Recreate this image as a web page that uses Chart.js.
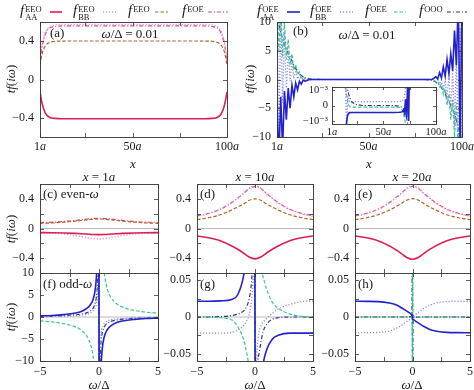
<!DOCTYPE html>
<html><head><meta charset="utf-8">
<script src="https://cdn.jsdelivr.net/npm/chart.js@4.4.1/dist/chart.umd.min.js"></script>
<style>
html,body{margin:0;padding:0;background:#fff}
#wrap{position:relative;width:474px;height:390px;overflow:hidden;font-family:"Liberation Serif","DejaVu Serif",serif;color:#1a1a1a}
#wrap canvas{position:absolute}
.t{position:absolute;white-space:nowrap;font-size:13px;line-height:13px}
.c{transform:translate(-50%,-50%)}
.rot{transform:translate(-50%,-50%) rotate(-90deg)}
.lg{position:absolute;white-space:nowrap;font-size:15px;line-height:15px}
.ss{display:inline-block;vertical-align:-5px;font-size:8.5px;line-height:8.5px;margin-left:1px;font-style:normal}
.ss b{display:block;font-weight:normal}
#wrap svg{position:absolute}
</style></head><body><div id="wrap"></div>
<script>
// ---------------- DATA ----------------
const colAA_EEO = '#dc1f52', colBB_EEO = '#f08cc8', colEEO = '#b4601e', colEOE = '#e0458c';
const colAA_OEE = '#2222cc', colBB_OEE = '#8c8ce8', colOEE = '#3cc88c', colOOO = '#303088';

// panel (a): x in units of a, omega/Delta = 0.01
const xA = [1,2,3,4,5,6,7,9,11,13,16,20,30,40,50,60,70,80,85,88,90,92,94,95,96,97,98,99,100];
const aAA_EEO = [-0.13,-0.24,-0.31,-0.355,-0.38,-0.394,-0.401,-0.406,-0.408,-0.409,-0.41,-0.41,-0.41,-0.41,-0.41,-0.41,-0.41,-0.41,-0.41,-0.409,-0.408,-0.406,-0.401,-0.394,-0.38,-0.355,-0.31,-0.24,-0.13];
const aBB_EEO = [0.2,0.35,0.44,0.5,0.53,0.55,0.56,0.57,0.573,0.575,0.576,0.576,0.576,0.576,0.576,0.576,0.576,0.576,0.576,0.575,0.573,0.57,0.56,0.55,0.53,0.5,0.44,0.35,0.2];
const aEEO = [0.15,0.26,0.32,0.355,0.375,0.386,0.393,0.398,0.4,0.401,0.402,0.402,0.402,0.402,0.402,0.402,0.402,0.402,0.402,0.401,0.4,0.398,0.393,0.386,0.375,0.355,0.32,0.26,0.15];
const aEOE = [0.18,0.33,0.42,0.48,0.515,0.535,0.545,0.553,0.557,0.559,0.56,0.56,0.56,0.56,0.56,0.56,0.56,0.56,0.56,0.559,0.557,0.553,0.545,0.535,0.515,0.48,0.42,0.33,0.18];

// panel (b)
const xB = [1,2,3,4,5,6,7,8,9,10,11,12,13,14,15,16,18,20,25,30,40,50,60,70,75,80,82,84,85,86,87,88,89,90,91,92,93,94,95,96,97,98,99,100];
const bAA_OEE = [-4,-14,-3,-12,-2,-7,-1.5,-5,-1,-3,-0.6,-1.8,-0.3,-0.8,-0.1,-0.3,-0.05,0,0,0,0,0,0,0,0,0,0,0.05,0.2,0.5,0.1,1.2,0.3,2.2,0.6,3.5,1.0,4.5,1.5,8.5,2.5,14,-12,14];
const bBB_OEE = [12,-9,11,-4,8,-1.5,5,-0.3,3,0.2,1.6,0.1,0.8,0.05,0.35,0.05,0.02,0,0,0,0,0,0,0,0,0,0,-0.02,-0.05,-0.35,-0.05,-0.8,-0.1,-1.6,-0.2,-3,0.3,-5,1.5,-8,4,-11,9,-12];
const bOEE = [14,5,13,4,10,3.5,7,2.5,4.5,1.6,2.6,0.8,1.3,0.3,0.5,0.1,0.05,0,0,0,0,0,0,0,0,0,0,-0.05,-0.1,-0.5,-0.3,-1.3,-0.8,-2.6,-1.6,-4.5,-2.5,-7,-3.5,-10,-4,-13,-5,-14];
const bOOO = [11,9.5,8.2,7,6,5.2,4.5,3.9,3.2,2.5,1.9,1.4,1.0,0.7,0.45,0.3,0.15,0.05,0,0,0,0,0,0,0,0,-0.05,-0.15,-0.3,-0.45,-0.7,-1.0,-1.4,-1.9,-2.5,-3.2,-3.9,-4.5,-5.2,-6,-7,-8.2,-9.5,-11];

// inset of (b)
const xI = [1,5,10,12,13,14,15,16,17,18,20,25,30,40,50,60,65,67,68,69,70,71,72,73,74,75,80,90,100];
const iAA_OEE = [-0.02,-0.01,-0.006,-0.004,-0.003,-0.0018,-0.001,-0.0006,-0.0005,-0.00046,-0.00045,-0.00045,-0.00045,-0.00045,-0.00045,-0.00045,-0.00044,-0.00042,-0.0004,-0.0003,-0.0005,0.0004,-0.0008,0.0015,-0.001,0.004,0.01,0.02,0.02];
const iBB_OEE = [0.02,0.01,0.005,0.003,0.0018,0.0008,-0.0015,0.0006,0.0003,0.00027,0.00025,0.00025,0.00025,0.00025,0.00025,0.00025,0.00026,0.00028,0.0003,0.0004,0.0006,0.0012,0.002,0.003,0.004,0.006,0.01,0.02,0.02];
const iOEE = [0.03,0.01,0.005,0.003,0.002,0.0012,0.0006,0.0002,0,-0.00008,-0.0001,-0.0001,-0.0001,-0.0001,-0.0001,-0.0001,-0.00012,-0.0002,-0.0003,-0.0005,-0.0008,-0.0012,-0.002,-0.003,-0.004,-0.005,-0.01,-0.02,-0.03];
const iOOO = [0.03,0.012,0.006,0.004,0.003,0.002,0.0014,0.001,0.0007,0.0005,0.0002,0.00005,0,0,0,0,-0.00005,-0.0001,-0.00015,-0.0002,-0.0003,-0.0005,-0.0008,-0.0012,-0.0016,-0.002,-0.006,-0.015,-0.03];

// even-omega panels (c) x=1a, (d) x=10a, (e) x=20a
const wE = [-5,-4,-3,-2,-1.5,-1,-0.5,0,0.5,1,1.5,2,3,4,5];
const cAA_EEO = [-0.055,-0.057,-0.06,-0.066,-0.07,-0.075,-0.08,-0.082,-0.08,-0.075,-0.07,-0.066,-0.06,-0.057,-0.055];
const cBB_EEO = [-0.06,-0.065,-0.075,-0.095,-0.108,-0.122,-0.135,-0.14,-0.135,-0.122,-0.108,-0.095,-0.075,-0.065,-0.06];
const cEEO = [0.07,0.075,0.085,0.1,0.108,0.117,0.125,0.128,0.125,0.117,0.108,0.1,0.085,0.075,0.07];
const cEOE = [0.08,0.085,0.095,0.11,0.118,0.127,0.135,0.138,0.135,0.127,0.118,0.11,0.095,0.085,0.08];
const dAA_EEO = [-0.1,-0.125,-0.165,-0.235,-0.28,-0.33,-0.385,-0.41,-0.385,-0.33,-0.28,-0.235,-0.165,-0.125,-0.1];
const dBB_EEO = [0.165,0.2,0.255,0.345,0.405,0.47,0.545,0.575,0.545,0.47,0.405,0.345,0.255,0.2,0.165];
const dEEO = [0.12,0.145,0.185,0.25,0.29,0.33,0.38,0.4,0.38,0.33,0.29,0.25,0.185,0.145,0.12];
const dEOE = [0.17,0.205,0.26,0.35,0.41,0.47,0.54,0.565,0.54,0.47,0.41,0.35,0.26,0.205,0.17];
const eAA_EEO = [-0.1,-0.125,-0.165,-0.235,-0.282,-0.335,-0.39,-0.415,-0.39,-0.335,-0.282,-0.235,-0.165,-0.125,-0.1];
const eBB_EEO = [0.165,0.2,0.255,0.345,0.405,0.47,0.545,0.576,0.545,0.47,0.405,0.345,0.255,0.2,0.165];
const eEEO = [0.12,0.145,0.185,0.25,0.29,0.335,0.382,0.402,0.382,0.335,0.29,0.25,0.185,0.145,0.12];
const eEOE = [0.17,0.205,0.26,0.35,0.41,0.47,0.54,0.566,0.54,0.47,0.41,0.35,0.26,0.205,0.17];

// odd-omega panel (f) x=1a
const wF = [-5,-4,-3,-2,-1.5,-1,-0.7,-0.5,-0.35,-0.25,-0.18,-0.12,-0.08,-0.04,0.04,0.08,0.12,0.18,0.25,0.35,0.5,0.7,1,1.5,2,3,4,5];
const fAA_OEE = [0.25,0.35,0.55,0.9,1.25,2.0,2.9,4.0,5.7,8,11,16,24,40,-40,-24,-16,-11,-8,-5.7,-4.0,-2.9,-2.0,-1.25,-0.9,-0.55,-0.35,-0.25];
const fBB_OEE = [0.1,0.13,0.2,0.32,0.43,0.65,0.93,1.3,1.85,2.6,3.6,5.4,8,16,-16,-8,-5.4,-3.6,-2.6,-1.85,-1.3,-0.93,-0.65,-0.43,-0.32,-0.2,-0.13,-0.1];
const fOEE = [-0.9,-1.1,-1.5,-2.25,-3,-4.5,-6.4,-9,-12.8,-18,-25,-37,-56,-110,110,56,37,25,18,12.8,9,6.4,4.5,3,2.25,1.5,1.1,0.9];
const fOOO = [0.15,0.2,0.3,0.5,0.68,1.0,1.45,2.0,2.9,4.0,5.5,8.3,12.5,25,-25,-12.5,-8.3,-5.5,-4.0,-2.9,-2.0,-1.45,-1.0,-0.68,-0.5,-0.3,-0.2,-0.15];

// odd-omega panel (g) x=10a
const wG = [-5,-4,-3,-2,-1.5,-1,-0.7,-0.5,-0.35,-0.25,-0.18,-0.12,0.12,0.18,0.25,0.35,0.5,0.7,1,1.5,2,3,4,5];
const gAA_OEE = [0.0215,0.0215,0.022,0.024,0.03,0.055,0.09,0.13,0.2,0.3,0.4,0.6,-0.6,-0.4,-0.3,-0.2,-0.1,-0.065,-0.045,-0.03,-0.025,-0.022,-0.022,-0.022];
const gBB_OEE = [-0.022,-0.022,-0.022,-0.021,-0.018,-0.012,-0.005,0.003,0.015,0.03,0.05,0.08,-0.07,-0.045,-0.03,-0.02,-0.012,-0.007,-0.002,0.005,0.011,0.017,0.021,0.022];
const gOEE = [0,0,-0.001,-0.004,-0.013,-0.03,-0.05,-0.07,-0.1,-0.14,-0.2,-0.3,0.3,0.2,0.14,0.1,0.07,0.055,0.038,0.02,0.012,0.004,0.001,0];
const gOOO = [0,0,0.0005,0.002,0.004,0.008,0.015,0.025,0.04,0.06,0.09,0.14,-0.14,-0.09,-0.06,-0.05,-0.035,-0.02,-0.01,-0.003,-0.001,0,0,0];

// odd-omega panel (h) x=20a
const wH = [-5,-4,-3,-2,-1.5,-1,-0.5,-0.2,-0.05,-0.01,0.01,0.05,0.2,0.5,1,1.5,2,3,4,5];
const hAA_OEE = [0.0215,0.0213,0.021,0.019,0.017,0.013,0.008,0.005,0.0035,0.003,-0.003,-0.0035,-0.005,-0.008,-0.013,-0.017,-0.019,-0.021,-0.0213,-0.0215];
const hBB_OEE = [-0.0215,-0.0213,-0.021,-0.019,-0.016,-0.012,-0.006,-0.003,-0.001,-0.0005,0.0005,0.001,0.003,0.006,0.012,0.016,0.019,0.021,0.0213,0.0215];
const hOEE = [0,0,0,0,0,0,0,-0.0003,-0.003,-0.1,0.1,0.003,0.0003,0,0,0,0,0,0,0];
const hOOO = [0,0,0,0,0,0,0,0.0003,0.003,0.1,-0.1,-0.003,-0.0003,0,0,0,0,0,0,0];

// ticks
const ticksX_site = [1,50,100], minorX_site = [25,75];
const ticksW = [-5,0,5], minorW = [-2.5,2.5];
const ticksY_a = [-0.4,0,0.4];
const ticksY_b = [-10,-5,0,5,10];
const ticksY_inset = [-0.001,0,0.001], labelsY_inset = ['\u221210\u207B\u00B3','0','10\u207B\u00B3'];
const ticksY_even = [-0.4,0,0.4], minorY_even = [-0.2,0.2];
const ticksY_f = [-10,-5,0,5,10];
const ticksY_gh = [-0.05,0,0.05], minorY_gh = [-0.025,0.025];

// ---------------- RENDERING ----------------
const FONT = '"Liberation Serif","DejaVu Serif",serif';
const wrap = document.getElementById('wrap');
const fmt = v => String(v).replace('-', '\u2212');

const STY = {
  AA_EEO:{c:colAA_EEO,w:1.6,d:[]}, BB_EEO:{c:colBB_EEO,w:1.3,d:[1.2,1.8]}, EEO:{c:colEEO,w:1.2,d:[3.5,2]}, EOE:{c:colEOE,w:1.2,d:[4,2,1,2]},
  AA_OEE:{c:colAA_OEE,w:1.6,d:[]}, BB_OEE:{c:colBB_OEE,w:1.3,d:[1.2,1.8]}, OEE:{c:colOEE,w:1.2,d:[3.5,2]}, OOO:{c:colOOO,w:1.2,d:[4,2,1,2]}
};
function ds(xs, ys, key, smooth){
  const s = STY[key];
  return {data: xs.map((x,i)=>({x:x,y:ys[i]})), borderColor:s.c, borderWidth:s.w, borderDash:s.d,
    pointRadius:0, fill:false, tension:0, cubicInterpolationMode: smooth?'monotone':'default'};
}

const framePlugin = {
  id:'frame',
  beforeDatasetsDraw(chart, args, o){
    const a = chart.chartArea, ctx = chart.ctx;
    if (o.bg){ ctx.save(); ctx.fillStyle=o.bg; ctx.fillRect(a.left,a.top,a.right-a.left,a.bottom-a.top); ctx.restore(); }
    if (o.zero){
      const y = chart.scales.y.getPixelForValue(0);
      ctx.save(); ctx.strokeStyle='#a8a8a8'; ctx.lineWidth=0.8;
      ctx.beginPath(); ctx.moveTo(a.left,y); ctx.lineTo(a.right,y); ctx.stroke(); ctx.restore();
    }
  },
  afterDatasetsDraw(chart, args, o){
    const a = chart.chartArea, ctx = chart.ctx, sx = chart.scales.x, sy = chart.scales.y;
    const L = o.len || 4;
    ctx.save();
    ctx.strokeStyle='#333'; ctx.lineWidth=0.9;
    ctx.strokeRect(Math.round(a.left)+0.5, Math.round(a.top)+0.5, Math.round(a.right-a.left), Math.round(a.bottom-a.top));
    ctx.lineWidth=0.8;
    const xs = sx.ticks.map(t=>t.value).concat(o.xminor||[]);
    const ys = sy.ticks.map(t=>t.value).concat(o.yminor||[]);
    ctx.beginPath();
    xs.forEach(v=>{ const p=Math.round(sx.getPixelForValue(v))+0.5;
      ctx.moveTo(p,a.bottom); ctx.lineTo(p,a.bottom-L); ctx.moveTo(p,a.top); ctx.lineTo(p,a.top+L); });
    ys.forEach(v=>{ const p=Math.round(sy.getPixelForValue(v))+0.5;
      ctx.moveTo(a.left,p); ctx.lineTo(a.left+L,p); ctx.moveTo(a.right,p); ctx.lineTo(a.right-L,p); });
    ctx.stroke();
    if (o.aLabels){
      const fs = o.aLabels.size;
      ctx.fillStyle='#1a1a1a'; ctx.textBaseline='middle';
      sx.ticks.forEach(t=>{
        const num = String(t.value);
        ctx.font = fs+'px '+FONT; const w1 = ctx.measureText(num).width;
        ctx.font = 'italic '+fs+'px '+FONT; const w2 = ctx.measureText('a').width;
        const cx = sx.getPixelForValue(t.value), x0 = cx-(w1+w2)/2, y = a.bottom + o.aLabels.dy;
        ctx.font = fs+'px '+FONT; ctx.textAlign='left'; ctx.fillText(num, x0, y);
        ctx.font = 'italic '+fs+'px '+FONT; ctx.fillText('a', x0+w1, y);
      });
    }
    ctx.restore();
  }
};

function panel(box, cv, o){
  const c = document.createElement('canvas');
  c.width = cv.w; c.height = cv.h;
  c.style.left = cv.x+'px'; c.style.top = cv.y+'px'; c.style.width = cv.w+'px'; c.style.height = cv.h+'px';
  wrap.appendChild(c);
  const padTop = box.T - cv.y, padRight = cv.x + cv.w - box.R;
  const yW = box.L - cv.x, xH = cv.y + cv.h - box.B;
  const fs = o.fs || 12;
  new Chart(c, {
    type:'line',
    data:{datasets:o.datasets},
    options:{
      responsive:false, animation:false, devicePixelRatio:1, events:[],
      layout:{padding:{top:padTop,right:padRight,left:0,bottom:0}},
      plugins:{legend:{display:false}, tooltip:{enabled:false},
        frame:{xminor:o.xminor, yminor:o.yminor, zero:o.zero, bg:o.bg, aLabels:o.aLabels, len:o.len}},
      scales:{
        x:{type:'linear', min:o.xr[0], max:o.xr[1],
          afterFit(s){ s.height = xH; s.paddingLeft=0; s.paddingRight=0; },
          afterBuildTicks(s){ s.ticks = o.xt.map(v=>({value:v})); },
          grid:{display:false, drawTicks:false}, border:{display:false},
          ticks:{display:!!o.xLabels, padding:4, autoSkip:false, maxRotation:0, color:'#1a1a1a', font:{family:FONT,size:fs}, callback:v=>fmt(v)}},
        y:{type:'linear', min:o.yr[0], max:o.yr[1],
          afterFit(s){ s.width = yW; s.paddingTop=0; s.paddingBottom=0; },
          afterBuildTicks(s){ s.ticks = o.yt.map(v=>({value:v})); },
          grid:{display:false, drawTicks:false}, border:{display:false},
          ticks:{display:true, padding:o.ypad||6, autoSkip:false, color:'#1a1a1a', font:{family:FONT,size:fs},
            callback:(v,i)=> o.ylab ? o.ylab[i] : fmt(v)}}
      }
    },
    plugins:[framePlugin]
  });
}

// (a)
panel({L:40,T:22,R:227,B:137},{x:0,y:14,w:240,h:150},{
  xr:[1,100], yr:[-0.6,0.6], xt:ticksX_site, xminor:minorX_site, yt:ticksY_a, xLabels:false, aLabels:{size:12,dy:10},
  datasets:[ds(xA,aAA_EEO,'AA_EEO',true), ds(xA,aBB_EEO,'BB_EEO',true), ds(xA,aEEO,'EEO',true), ds(xA,aEOE,'EOE',true)]});
// (b)
panel({L:277,T:22,R:462,B:137},{x:237,y:14,w:237,h:150},{
  xr:[1,100], yr:[-10,10], xt:ticksX_site, xminor:minorX_site, yt:ticksY_b, xLabels:false, aLabels:{size:12,dy:10},
  datasets:[ds(xB,bAA_OEE,'AA_OEE',false), ds(xB,bBB_OEE,'BB_OEE',false), ds(xB,bOEE,'OEE',false), ds(xB,bOOO,'OOO',false)]});
// inset
panel({L:332,T:87,R:436,B:124},{x:295,y:80,w:170,h:58},{
  xr:[1,100], yr:[-0.0012,0.0012], xt:ticksX_site, xminor:minorX_site, yt:ticksY_inset, ylab:labelsY_inset, fs:10.5, ypad:4, len:3,
  bg:'#fff', aLabels:{size:10.5,dy:8},
  datasets:[ds(xI,iAA_OEE,'AA_OEE',false), ds(xI,iBB_OEE,'BB_OEE',false), ds(xI,iOEE,'OEE',false), ds(xI,iOOO,'OOO',false)]});

// even panels
const evenCols = [
  {L:40,R:158,cx:0,cw:166, s:[cAA_EEO,cBB_EEO,cEEO,cEOE]},
  {L:197,R:313,cx:158,cw:163, s:[dAA_EEO,dBB_EEO,dEEO,dEOE]},
  {L:355,R:470,cx:316,cw:158, s:[eAA_EEO,eBB_EEO,eEEO,eEOE]}
];
evenCols.forEach(p=>{
  panel({L:p.L,T:184,R:p.R,B:273},{x:p.cx,y:176,w:p.cw,h:97},{
    xr:[-5,5], yr:[-0.6,0.6], xt:ticksW, xminor:minorW, yt:ticksY_even, yminor:minorY_even, zero:true, xLabels:false,
    datasets:[ds(wE,p.s[0],'AA_EEO',true), ds(wE,p.s[1],'BB_EEO',true), ds(wE,p.s[2],'EEO',true), ds(wE,p.s[3],'EOE',true)]});
});
// odd panels
const oddCols = [
  {L:40,R:158,cx:0,cw:166, w:wF, s:[fAA_OEE,fBB_OEE,fOEE,fOOO], yr:[-10,10], yt:ticksY_f, ym:[]},
  {L:197,R:313,cx:158,cw:163, w:wG, s:[gAA_OEE,gBB_OEE,gOEE,gOOO], yr:[-0.06,0.06], yt:ticksY_gh, ym:minorY_gh},
  {L:355,R:470,cx:316,cw:158, w:wH, s:[hAA_OEE,hBB_OEE,hOEE,hOOO], yr:[-0.06,0.06], yt:ticksY_gh, ym:minorY_gh}
];
oddCols.forEach(p=>{
  panel({L:p.L,T:273,R:p.R,B:361},{x:p.cx,y:266,w:p.cw,h:114},{
    xr:[-5,5], yr:p.yr, xt:ticksW, xminor:minorW, yt:p.yt, yminor:p.ym, zero:true, xLabels:true,
    datasets:[ds(p.w,p.s[0],'AA_OEE',true), ds(p.w,p.s[1],'BB_OEE',true), ds(p.w,p.s[2],'OEE',true), ds(p.w,p.s[3],'OOO',true)]});
});

// ---------------- TEXT & LEGEND ----------------
function addHTML(h){ wrap.insertAdjacentHTML('beforeend', h); }
const tf = '<i>tf</i>(<i>i\u03C9</i>)';
addHTML(`<div class="t c" style="left:133px;top:163px"><i>x</i></div>
<div class="t c" style="left:369px;top:163px"><i>x</i></div>
<div class="t rot" style="left:10px;top:79px">${tf}</div>
<div class="t rot" style="left:249px;top:79px">${tf}</div>
<div class="t rot" style="left:10px;top:229px">${tf}</div>
<div class="t rot" style="left:10px;top:317px">${tf}</div>
<div class="t" style="left:50px;top:26px">(a)</div>
<div class="t c" style="left:130px;top:33px"><i>\u03C9</i>/\u0394 = 0.01</div>
<div class="t" style="left:293px;top:24px">(b)</div>
<div class="t c" style="left:367px;top:34px"><i>\u03C9</i>/\u0394 = 0.01</div>
<div class="t c" style="left:99px;top:176px"><i>x</i> = 1<i>a</i></div>
<div class="t c" style="left:255px;top:176px"><i>x</i> = 10<i>a</i></div>
<div class="t c" style="left:412px;top:176px"><i>x</i> = 20<i>a</i></div>
<div class="t" style="left:43px;top:187px">(c) even-<i>\u03C9</i></div>
<div class="t" style="left:200px;top:187px">(d)</div>
<div class="t" style="left:358px;top:187px">(e)</div>
<div class="t" style="left:43px;top:277px">(f) odd-<i>\u03C9</i></div>
<div class="t" style="left:200px;top:277px">(g)</div>
<div class="t" style="left:358px;top:277px">(h)</div>
<div class="t c" style="left:99px;top:384px"><i>\u03C9</i>/\u0394</div>
<div class="t c" style="left:255px;top:384px"><i>\u03C9</i>/\u0394</div>
<div class="t c" style="left:412px;top:384px"><i>\u03C9</i>/\u0394</div>`);

const legend = [
  {x:20, sup:'EEO', sub:'AA', k:'AA_EEO', l1:50, l2:62},
  {x:73, sup:'EEO', sub:'BB', k:'BB_EEO', l1:103, l2:116},
  {x:128, sup:'EEO', sub:'', k:'EEO', l1:155, l2:168},
  {x:182, sup:'EOE', sub:'', k:'EOE', l1:208, l2:228},
  {x:257, sup:'OEE', sub:'AA', k:'AA_OEE', l1:287, l2:300},
  {x:310, sup:'OEE', sub:'BB', k:'BB_OEE', l1:340, l2:353},
  {x:365, sup:'OEE', sub:'', k:'OEE', l1:394, l2:406},
  {x:419, sup:'OOO', sub:'', k:'OOO', l1:447, l2:467}
];
legend.forEach(e=>{
  const s = STY[e.k];
  addHTML(`<div class="lg" style="left:${e.x}px;top:3px"><i>f</i><span class="ss"><b>${e.sup}</b><b>${e.sub||'&nbsp;'}</b></span></div>`);
  addHTML(`<svg style="left:${e.l1}px;top:8px" width="${e.l2-e.l1}" height="8"><line x1="0" y1="4" x2="${e.l2-e.l1}" y2="4" stroke="${s.c}" stroke-width="${s.w}" stroke-dasharray="${s.d.join(',')||'none'}"/></svg>`);
});
</script></body></html>
